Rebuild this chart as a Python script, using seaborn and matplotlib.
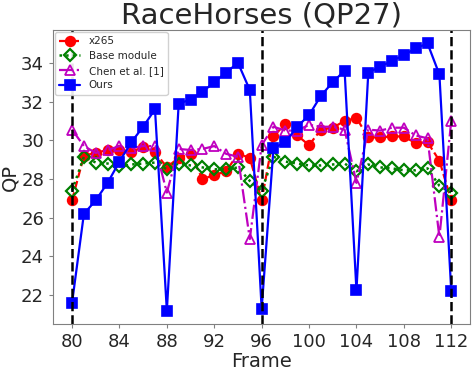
import numpy as np
import pandas as pd
import matplotlib
matplotlib.use("Agg")
import matplotlib.pyplot as plt
import seaborn as sns

# -------------------- DATA --------------------
frames = list(range(80, 113))

x265 = [26.9, 29.2, 29.35, 29.5, 29.5, 29.4, 29.65, 29.4, 28.6, 29.1,
        29.3, 28.0, 28.2, 28.4, 29.3, 29.1, 26.9, 30.2, 30.85, 30.25,
        29.75, 30.55, 30.65, 31.0, 31.15, 30.15, 30.15, 30.2, 30.2, 29.85,
        29.9, 28.95, 26.9]

base_module = [27.4, 29.15, 28.85, 28.8, 28.65, 28.75, 28.8, 28.85, 28.5, 28.8,
               28.7, 28.6, 28.5, 28.5, 28.6, 27.9, 27.4, 29.15, 28.9, 28.8,
               28.7, 28.7, 28.75, 28.8, 28.4, 28.75, 28.6, 28.55, 28.45, 28.45,
               28.55, 27.65, 27.3]

chen = [30.55, 29.7, 29.35, 29.5, 29.7, 29.6, 29.7, 29.7, 27.3, 29.55,
        29.5, 29.55, 29.7, 29.3, 29.15, 24.9, 29.75, 30.7, 30.5, 30.5,
        30.8, 30.7, 30.7, 30.55, 27.8, 30.55, 30.5, 30.65, 30.65, 30.25,
        30.1, 25.0, 31.0]

ours = [21.6, 26.2, 26.9, 27.8, 28.9, 29.9, 30.7, 31.6, 21.2, 31.9,
        32.1, 32.5, 33.0, 33.5, 34.0, 32.6, 21.3, 29.6, 29.9, 30.7,
        31.3, 32.3, 33.0, 33.6, 22.25, 33.5, 33.8, 34.1, 34.4, 34.75,
        35.0, 33.4, 22.2]

gop_starts = [80, 96, 112]
x_ticks = list(range(80, 113, 4))
y_ticks = list(range(22, 35, 2))

# -------------------- PLOT --------------------
sns.set_style("ticks")

df = pd.DataFrame({"Frame": frames, "x265": x265, "Base module": base_module,
                   "Chen et al. [1]": chen, "Ours": ours})

fig, ax = plt.subplots(figsize=(4.74, 3.72), dpi=100)

sns.lineplot(data=df, x="Frame", y="x265", ax=ax, label="x265",
             color="red", linestyle="--", linewidth=1.6,
             marker="o", markersize=7, mec="red", mfc="red", mew=1.2)
sns.lineplot(data=df, x="Frame", y="Base module", ax=ax, label="Base module",
             color="green", linestyle=":", linewidth=1.8,
             marker="D", markersize=6, mec="green", mfc="none", mew=1.6)
sns.lineplot(data=df, x="Frame", y="Chen et al. [1]", ax=ax, label="Chen et al. [1]",
             color="m", linestyle="-.", linewidth=1.6,
             marker="^", markersize=7, mec="m", mfc="none", mew=1.3)
sns.lineplot(data=df, x="Frame", y="Ours", ax=ax, label="Ours",
             color="blue", linestyle="-", linewidth=1.6,
             marker="s", markersize=7, mec="blue", mfc="blue", mew=1.2)

# GOP sınırları
for g in gop_starts:
    ax.axvline(g, color="black", linestyle="--", linewidth=1.8)

ax.margins(x=0.05, y=0.05)
ax.set_xticks(x_ticks)
ax.set_yticks(y_ticks)
ax.tick_params(labelsize=13, color="gray", length=3, width=0.8)
for s in ax.spines.values():
    s.set_visible(True)
    s.set_color("gray")
    s.set_linewidth(0.8)

ax.set_title("RaceHorses (QP27)", fontsize=21, pad=5)
ax.set_xlabel("Frame", fontsize=14, labelpad=1)
ax.set_ylabel("QP", fontsize=14, labelpad=1)

ax.legend(loc="upper left", fontsize=7.5, handlelength=2.0,
          borderaxespad=0.2, labelspacing=0.45, framealpha=0.9)

fig.subplots_adjust(left=0.112, right=0.992, top=0.919, bottom=0.129)
fig.savefig("out.png", dpi=100)
